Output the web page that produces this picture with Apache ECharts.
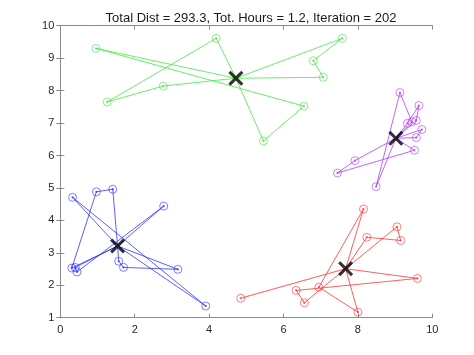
<!DOCTYPE html>
<html><head><meta charset="utf-8">
<script src="https://cdn.jsdelivr.net/npm/echarts@6/dist/echarts.min.js"></script>
<style>html,body{margin:0;padding:0;background:#fff}#c{width:474px;height:355px}</style>
</head><body><div id="c"></div>
<script>
const titleText = 'Total Dist = 293.3, Tot. Hours = 1.2, Iteration = 202';
const xTicks = [0, 2, 4, 6, 8, 10];
const yTicks = [1, 2, 3, 4, 5, 6, 7, 8, 9, 10];

// Blue cluster
const blueDepot = [1.54, 3.21];
const blueX = [0.33, 0.97, 1.41, 2.78, 0.31, 0.40, 0.45, 1.57, 1.70, 3.16, 3.91];
const blueY = [4.71, 4.88, 4.96, 4.44, 2.53, 2.55, 2.41, 2.74, 2.55, 2.49, 1.36];
const blueRoutes = [[0, 10], [7, 8, 9], [2, 1, 4], [3, 6, 5]];

// Green cluster
const greenDepot = [4.72, 8.38];
const greenX = [0.96, 4.19, 7.58, 6.80, 7.07, 2.77, 1.26, 6.55, 5.46];
const greenY = [9.30, 9.61, 9.61, 8.92, 8.41, 8.14, 7.65, 7.52, 6.45];
const greenRoutes = [[0, 7, 8], [1, 6, 5], [2, 3, 4]];

// Red cluster
const redDepot = [7.67, 2.51];
const redX = [8.15, 9.05, 8.24, 9.15, 9.60, 6.95, 6.34, 6.56, 4.85, 8.00];
const redY = [4.35, 3.80, 3.48, 3.38, 2.21, 1.94, 1.84, 1.46, 1.60, 1.17];
const redRoutes = [[8], [2, 3, 1], [4, 6, 7], [0, 5, 9]];

// Purple cluster
const purpleDepot = [9.02, 6.53];
const purpleX = [9.13, 9.64, 9.33, 9.45, 9.57, 9.72, 9.57, 9.52, 7.92, 7.45, 8.49];
const purpleY = [7.94, 7.54, 6.99, 7.04, 7.08, 6.80, 6.55, 6.16, 5.84, 5.46, 5.04];
const purpleRoutes = [[8, 9, 7], [10, 0, 3], [2, 1, 4], [5, 6]];

const clusters = [
  {color: '#3535ff', depot: blueDepot, xs: blueX, ys: blueY, routes: blueRoutes},
  {color: '#44e844', depot: greenDepot, xs: greenX, ys: greenY, routes: greenRoutes},
  {color: '#ff3535', depot: redDepot, xs: redX, ys: redY, routes: redRoutes},
  {color: '#b13df5', depot: purpleDepot, xs: purpleX, ys: purpleY, routes: purpleRoutes}
];

const series = [];
const depots = [];
clusters.forEach(c => {
  c.routes.forEach(r => {
    const d = [c.depot].concat(r.map(i => [c.xs[i], c.ys[i]])).concat([c.depot]);
    series.push({type: 'line', data: d, showSymbol: false, symbol: 'none', silent: true,
      lineStyle: {color: c.color, width: r.length === 1 ? 0.5 : 0.8}, z: 2, animation: false});
  });
  const pts = c.xs.map((x, i) => [x, c.ys[i]]);
  series.push({type: 'scatter', data: pts, symbol: 'circle', symbolSize: 8,
    itemStyle: {color: 'rgba(255,255,255,0)', borderColor: c.color, borderWidth: 0.8}, z: 3, animation: false});
  series.push({type: 'scatter', data: pts, symbol: 'circle', symbolSize: 2.2,
    itemStyle: {color: c.color}, z: 4, animation: false});
  depots.push(c.depot);
});
series.push({type: 'scatter', data: depots,
  symbol: 'path://M0,2 L2,0 L7,5 L12,0 L14,2 L9,7 L14,12 L12,14 L7,9 L2,14 L0,12 L5,7 Z',
  symbolSize: 15, itemStyle: {color: '#000'}, z: 5, animation: false});

const axisCol = '#8a8a8a';
const lab = {color: '#262626', fontSize: 11, fontFamily: 'Liberation Sans, Arial, sans-serif'};
const chart = echarts.init(document.getElementById('c'), null, {renderer: 'canvas'});
chart.setOption({
  backgroundColor: '#fff',
  animation: false,
  title: {text: titleText, left: 246, top: 7, textAlign: 'center',
    textStyle: {fontSize: 13, fontWeight: 'normal', color: '#1a1a1a', fontFamily: 'Liberation Sans, Arial, sans-serif'}},
  grid: {left: 60.3, right: 41.7, top: 25.7, bottom: 37.3, show: false},
  xAxis: [
    {type: 'value', min: 0, max: 10, interval: 2, position: 'bottom',
      axisLine: {show: true, lineStyle: {color: axisCol, width: 1}},
      axisTick: {show: true, inside: true, length: 4, lineStyle: {color: axisCol}},
      axisLabel: Object.assign({margin: 7}, lab), splitLine: {show: false}},
    {type: 'value', min: 0, max: 10, interval: 2, position: 'top',
      axisLine: {show: true, lineStyle: {color: axisCol, width: 1}},
      axisTick: {show: true, inside: true, length: 4, lineStyle: {color: axisCol}},
      axisLabel: {show: false}, splitLine: {show: false}}
  ],
  yAxis: [
    {type: 'value', min: 1, max: 10, interval: 1, position: 'left',
      axisLine: {show: true, lineStyle: {color: axisCol, width: 1}},
      axisTick: {show: true, inside: true, length: 4, lineStyle: {color: axisCol}},
      axisLabel: Object.assign({margin: 6}, lab), splitLine: {show: false}},
    {type: 'value', min: 1, max: 10, interval: 1, position: 'right',
      axisLine: {show: true, lineStyle: {color: axisCol, width: 1}},
      axisTick: {show: true, inside: true, length: 4, lineStyle: {color: axisCol}},
      axisLabel: {show: false}, splitLine: {show: false}}
  ],
  series: series
});
</script></body></html>
